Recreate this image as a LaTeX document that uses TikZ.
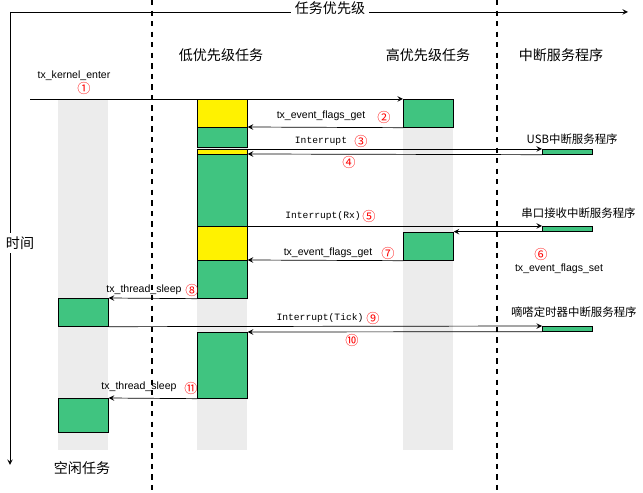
\documentclass[tikz,border=0pt]{standalone}
\usepackage{fontspec}
\setmainfont{Liberation Sans}
\newfontfamily\cjk{Noto Sans CJK SC}
\newfontfamily\mono{Liberation Mono}
\usetikzlibrary{arrows,positioning,calc}
\definecolor{busy}{RGB}{64,196,128}

\begin{document}
\begin{tikzpicture}[
    x=0.02cm, y=-0.02cm,
    lane/.style={rectangle, fill=gray!15, inner sep=0pt, minimum width=1cm, minimum height=7cm, anchor=north west},
    run/.style={rectangle, draw, fill=busy, inner sep=0pt, minimum width=1cm, anchor=north west},
    wait/.style={run, fill=yellow},
    isr/.style={run, minimum height=0.1cm},
    head/.style={font=\cjk\fontsize{8}{9}\selectfont},
    lbl/.style={font=\fontsize{6}{7}\selectfont, inner sep=1pt},
    ilbl/.style={font=\mono\fontsize{5.5}{6.5}\selectfont, inner sep=1pt},
    num/.style={font=\cjk\fontsize{7.5}{8}\selectfont, text=red, inner sep=0pt},
    isrlbl/.style={font=\cjk\fontsize{6.5}{7}\selectfont, anchor=east, inner sep=0pt},
    arrow/.style={->,>=stealth,thin}
]
\useasboundingbox (0,0) rectangle (643,493);

% Lanes
\node[lane] (idle) at (58,100) {};
\node[lane] (low) at (197,100) {};
\node[lane] (high) at (403,100) {};

% Axes
\draw[->,>=stealth] (10,12) -- (628,12);
\draw[->,>=stealth] (10,12) -- (10,465);
\node[head, fill=white, inner sep=2pt] (prio) at (330,8) {任务优先级};
\node[head, fill=white, inner sep=2pt] (time) at (20,243) {时间};
\draw[dashed, thick] (152,0) -- (152,493);
\draw[dashed, thick] (497,0) -- (497,493);

% Headers
\node[head] (hlow) at (221,55) {低优先级任务};
\node[head] (hhigh) at (428,55) {高优先级任务};
\node[head] (hisr) at (561,55) {中断服务程序};
\node[head] (hidle) at (82,468) {空闲任务};

% Blocks
\node[wait, minimum height=0.56cm] (low1) at (197,99) {};
\node[run, minimum height=0.4cm] (low2) at (197,127) {};
\node[wait, minimum height=0.1cm] (low3) at (197,149) {};
\node[run, minimum height=1.44cm] (low4) at (197,154) {};
\node[wait, minimum height=0.68cm] (low5) at (197,226) {};
\node[run, minimum height=0.76cm] (low6) at (197,260) {};
\node[run, minimum height=1.32cm] (low7) at (197,332) {};
\node[run, minimum height=0.56cm] (high1) at (403,99) {};
\node[run, minimum height=0.56cm] (high2) at (403,232) {};
\node[run, minimum height=0.56cm] (idle1) at (58,298) {};
\node[run, minimum height=0.68cm] (idle2) at (58,398) {};
\node[isr] (usb) at (542,149) {};
\node[isr] (rx) at (542,226) {};
\node[isr] (tick) at (542,326) {};
\coordinate (start) at (30,99);

% Arrows
\draw[arrow] (start) -- (high1.north west);
\draw[arrow] (high1.south west) -- (low2.north east);
\draw[arrow] (low3.north east) -- (usb.north west);
\draw[arrow] (usb.south west) -- (low4.north east);
\draw[arrow] (low5.north east) -- (rx.north west);
\draw[arrow] (rx.south west) -- (rx.south west -| high2.east);
\draw[arrow] (high2.south west) -- (low6.north east);
\draw[arrow] (low6.south west) -- (idle1.north east);
\draw[arrow] (idle1.south east) -- (tick.north west);
\draw[arrow] (tick.south west) -- (low7.north east);
\draw[arrow] (low7.south west) -- (idle2.north east);

% Labels
\node[lbl] (l1) at (74,76) {tx\_kernel\_enter};
\node[num] (n1) at (84,88) {①};
\node[lbl] (l2) at (321,116) {tx\_event\_flags\_get};
\node[num] (n2) at (384,117) {②};
\node[ilbl] (l3) at (321,141) {Interrupt};
\node[num] (n3) at (361,141) {③};
\node[num] (n4) at (349,162) {④};
\node[ilbl] (l5) at (323,216) {Interrupt(Rx)};
\node[num] (n5) at (369,216) {⑤};
\node[num] (n6) at (541,254) {⑥};
\node[lbl] (l6) at (559,269) {tx\_event\_flags\_set};
\node[lbl] (l7) at (328,253) {tx\_event\_flags\_get};
\node[num] (n7) at (388,253) {⑦};
\node[lbl] (l8) at (144,290) {tx\_thread\_sleep};
\node[num] (n8) at (192,290) {⑧};
\node[ilbl] (l9) at (320,318) {Interrupt(Tick)};
\node[num] (n9) at (373,318) {⑨};
\node[num] (n10) at (352,340) {⑩};
\node[lbl] (l11) at (139,387) {tx\_thread\_sleep};
\node[num] (n11) at (191,388) {⑪};
\node[isrlbl] (susb) at (618,139) {USB中断服务程序};
\node[isrlbl] (srx) at (636,213) {串口接收中断服务程序};
\node[isrlbl] (stick) at (637,312) {嘀嗒定时器中断服务程序};

\end{tikzpicture}
\end{document}
